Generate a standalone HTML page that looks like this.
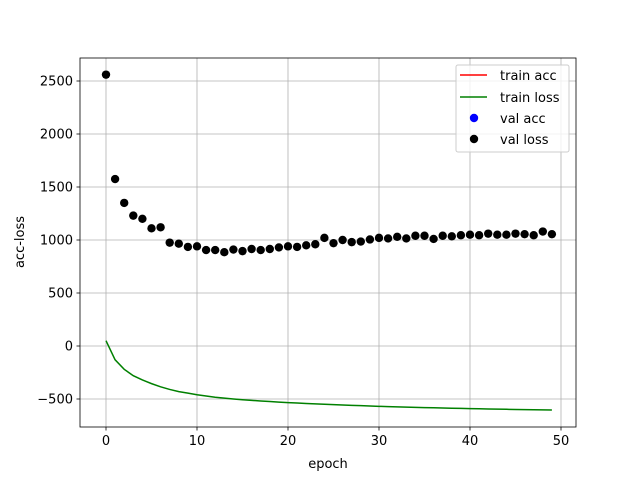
<!DOCTYPE html>
<html><head><style>body{margin:0;background:#fff}svg{display:block}text{font-family:"DejaVu Sans","Liberation Sans",sans-serif;font-size:13px;fill:#000}</style></head><body>
<svg id="s" width="640" height="480" xmlns="http://www.w3.org/2000/svg"></svg>
<script>
const s=document.getElementById('s');let h='';
const X=v=>106+v*9.1, Y=v=>346-v*0.106;
const L=80,R=576,T=58,B=427;
for(let v=0;v<=50;v+=10){h+=`<line x1="${X(v)}" y1="${T}" x2="${X(v)}" y2="${B}" stroke="#b0b0b0" stroke-width="0.8"/><line x1="${X(v)}" y1="${B}" x2="${X(v)}" y2="${B+3.5}" stroke="#000" stroke-width="0.8"/><text x="${X(v)}" y="${B+18}" text-anchor="middle">${v}</text>`;}
for(let v=-500;v<=2500;v+=500){h+=`<line x1="${L}" y1="${Y(v)}" x2="${R}" y2="${Y(v)}" stroke="#b0b0b0" stroke-width="0.8"/><line x1="${L-3.5}" y1="${Y(v)}" x2="${L}" y2="${Y(v)}" stroke="#000" stroke-width="0.8"/><text x="${L-7}" y="${Y(v)+4.5}" text-anchor="end">${v<0?'\u2212'+(-v):v}</text>`;}
const tl=[50,-130,-220,-280,-320,-355,-385,-410,-430,-445,-460,-472,-483,-492,-500,-507,-513,-519,-524,-529,-534,-538,-542,-546,-550,-553,-557,-560,-563,-566,-569,-572,-574,-577,-579,-581,-583,-585,-587,-589,-591,-592,-594,-596,-597,-599,-600,-602,-603,-604];
h+=`<polyline fill="none" stroke="green" stroke-width="1.5" points="${tl.map((v,i)=>X(i)+','+Y(v)).join(' ')}"/>`;
const vl=[2560,1575,1350,1230,1200,1110,1120,975,965,935,940,905,905,885,910,895,915,905,915,930,940,935,950,960,1020,970,1000,980,985,1005,1020,1015,1030,1015,1040,1040,1010,1040,1035,1045,1050,1045,1060,1050,1050,1060,1055,1045,1080,1055];
vl.forEach((v,i)=>h+=`<circle cx="${X(i)}" cy="${Y(v)}" r="4.2" fill="#000"/>`);
h+=`<rect x="${L}" y="${T}" width="${R-L}" height="${B-T}" fill="none" stroke="#000" stroke-width="0.8"/>`;
h+=`<text x="328" y="468" text-anchor="middle">epoch</text><text transform="translate(24,242) rotate(-90)" text-anchor="middle">acc-loss</text>`;
h+=`<rect x="456" y="65" width="113" height="87" fill="#fff" fill-opacity="0.8" stroke="#ccc" rx="2"/>`;
h+=`<line x1="460" y1="75" x2="487" y2="75" stroke="red" stroke-width="1.5"/><text x="500" y="80">train acc</text>`;
h+=`<line x1="460" y1="97" x2="487" y2="97" stroke="green" stroke-width="1.5"/><text x="500" y="102">train loss</text>`;
h+=`<circle cx="474" cy="118" r="4.2" fill="blue"/><text x="500" y="123">val acc</text>`;
h+=`<circle cx="474" cy="139" r="4.2" fill="#000"/><text x="500" y="144">val loss</text>`;
s.innerHTML=h;
</script></body></html>
